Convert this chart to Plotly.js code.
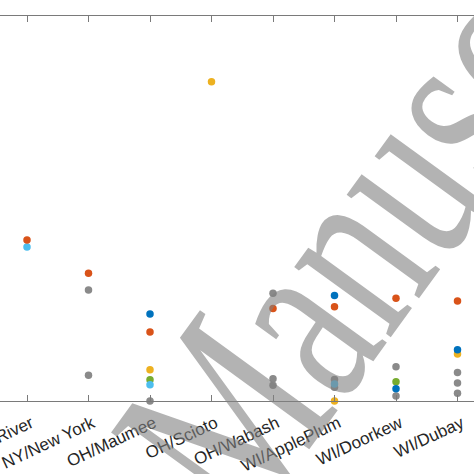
<!DOCTYPE html>
<html>
<head>
<meta charset="utf-8">
<script src="https://cdn.plot.ly/plotly-3.0.1.min.js"></script>
<style>html,body{margin:0;padding:0;background:#fff;}#chart{width:474px;height:474px;}</style>
</head>
<body>
<div id="chart"></div>
<script>
// Categories (first and last labels are cut off by the image edge)
const categories = ["NY/Genesee River", "NY/New York", "OH/Maumee", "OH/Scioto", "OH/Wabash", "WI/ApplePlum", "WI/Doorkew", "WI/Dubay", "WI/Lower Fox"];

// Series values (arbitrary units)
const grayA   = [null, 28.8, 0.0, null, 28.0, 5.6, 8.9, 7.4, null];
const grayB   = [null, 6.7, null, null, 5.8, 3.6, 1.3, 4.7, null];
const grayC   = [null, null, null, null, 4.1, null, null, 2.0, null];
const yellow  = [null, null, 8.1, 82.9, null, 0.0, null, 12.2, null];
const green   = [null, null, 5.5, null, null, null, 5.0, null, null];
const blue    = [null, null, 22.6, null, null, 27.4, 3.2, 13.3, null];
const ltblue  = [40.0, null, 4.2, null, null, 4.4, null, null, null];
const orange  = [41.8, 33.2, 17.9, null, 24.0, 24.5, 26.7, 26.0, null];

const watermarkText = "Manuscript";

function series(vals, color) {
  return {
    x: categories, y: vals, type: "scatter", mode: "markers",
    marker: {color: color, size: 7.5, line: {width: 0}},
    cliponaxis: false, hoverinfo: "skip", showlegend: false
  };
}

const data = [
  series(grayA, "#8a8a8a"),
  series(grayB, "#8a8a8a"),
  series(grayC, "#8a8a8a"),
  series(yellow, "#EDB120"),
  series(green, "#77AC30"),
  series(blue, "#0072BD"),
  series(ltblue, "#4DBEEE"),
  series(orange, "#D95319")
];

const WM_X = 418, WM_Y = 150, WM_SX = 0.7;
const WM_FONT = "Liberation Serif, Times New Roman, serif";

const layout = {
  width: 474, height: 474,
  margin: {l: 0, r: 0, t: 16, b: 73, pad: 0},
  paper_bgcolor: "#fff", plot_bgcolor: "#fff",
  font: {family: "Liberation Sans, Arial, sans-serif", color: "#262626"},
  xaxis: {
    type: "category",
    range: [-27/61.5, (474-27)/61.5],
    showline: true, linecolor: "#7a7a7a", linewidth: 1,
    mirror: "ticks",
    ticks: "inside", ticklen: 6, tickcolor: "#7a7a7a", tickwidth: 1,
    tickangle: -25,
    ticklabelstandoff: 5, ticklabelshift: 4,
    tickfont: {size: 17, color: "#262626"},
    showgrid: false, zeroline: false, fixedrange: true
  },
  yaxis: {
    range: [0, 100],
    showline: false, showgrid: false, zeroline: false,
    showticklabels: false, ticks: "", fixedrange: true
  },
  annotations: [{
    xref: "paper", yref: "paper",
    x: WM_X / 474, y: (401 - WM_Y) / 385, xanchor: "center", yanchor: "middle",
    text: watermarkText, showarrow: false, textangle: -54,
    font: {family: WM_FONT, size: 260, color: "rgba(128,128,128,0.6)"}
  }]
};

Plotly.newPlot("chart", data, layout, {staticPlot: true, displayModeBar: false}).then(function () {
  const t = document.querySelector("#chart .annotation-text");
  if (!t) return;
  const b = t.getBBox();
  const cx = b.x + b.width / 2, cy = b.y + b.height / 2;
  const prev = t.getAttribute("transform") || "";
  t.setAttribute("transform", prev + " translate(" + cx + "," + cy + ") scale(" + WM_SX + ",1) translate(" + (-cx) + "," + (-cy) + ")");
});
</script>
</body>
</html>
